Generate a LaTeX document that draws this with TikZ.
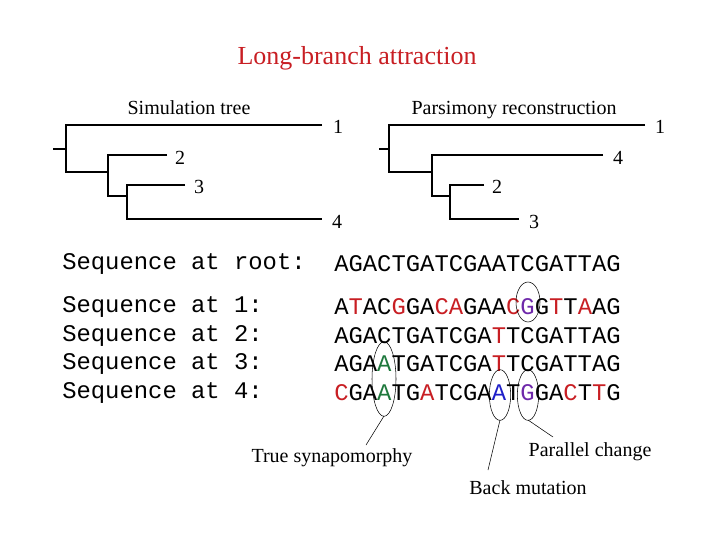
\documentclass[tikz,border=0pt]{standalone}
\usepackage{fontspec}
\setmainfont{Liberation Serif}
\newfontfamily\seqfont{Liberation Mono}
\definecolor{rd}{RGB}{200,30,35}
\definecolor{gn}{RGB}{30,120,60}
\definecolor{bl}{RGB}{30,30,200}
\definecolor{pu}{RGB}{110,40,170}
\newcommand{\cR}[1]{\textcolor{rd}{#1}}
\newcommand{\cG}[1]{\textcolor{gn}{#1}}
\newcommand{\cB}[1]{\textcolor{bl}{#1}}
\newcommand{\cP}[1]{\textcolor{pu}{#1}}
\begin{document}
\begin{tikzpicture}[x=0.75pt,y=-0.75pt,
  br/.style={line width=2.2pt},
  lab/.style={font=\fontsize{15}{15}\selectfont,inner sep=0pt},
  seq/.style={font=\seqfont\fontsize{17.9}{18}\selectfont,anchor=west,inner sep=0pt}]
\useasboundingbox (0,0) rectangle (720,540);
\node[lab,text=rd,font=\fontsize{19.5}{20}\selectfont] (title) at (357,58) {Long-branch attraction};
\node[lab] (st) at (189,108) {Simulation tree};
\node[lab] (pr) at (514,110) {Parsimony reconstruction};
% left tree
\draw[br] (53,149) -- (66,149);
\draw[br] (322,125) -- (66,125) -- (66,172) -- (108,172);
\draw[br] (167,155) -- (108,155) -- (108,196) -- (127,196);
\draw[br] (185,185) -- (127,185) -- (127,219) -- (322,219);
\node[lab] (l1) at (338,127) {1};
\node[lab] (l2) at (180,158) {2};
\node[lab] (l3) at (199,187) {3};
\node[lab] (l4) at (337,222) {4};
% right tree
\draw[br] (379,149) -- (389,149);
\draw[br] (645,125) -- (389,125) -- (389,172) -- (432,172);
\draw[br] (603,155) -- (432,155) -- (432,196) -- (450,196);
\draw[br] (484,185) -- (450,185) -- (450,219) -- (519,219);
\node[lab] (r1) at (660,127) {1};
\node[lab] (r4) at (618,158) {4};
\node[lab] (r2) at (497,187) {2};
\node[lab] (r3) at (534,222) {3};
% sequences
\node[seq] (s0) at (62,264) {Sequence at root:};
\node[seq] (s1) at (62,307) {Sequence at 1:};
\node[seq] (s2) at (62,336) {Sequence at 2:};
\node[seq] (s3) at (62,364) {Sequence at 3:};
\node[seq] (s4) at (62,393) {Sequence at 4:};
\node[seq] (q0) at (334,264) {AGACTGATCGAATCGATTAG};
\node[seq] (q1) at (334,307) {A\cR{T}AC\cR{G}GA\cR{CA}GAA\cR{C}\cP{G}G\cR{T}T\cR{A}AG};
\node[seq] (q2) at (334,336) {AGACTGATCGA\cR{T}TCGATTAG};
\node[seq] (q3) at (334,364) {AGA\cG{A}TGATCGA\cR{T}TCGATTAG};
\node[seq] (q4) at (334,393) {\cR{C}GA\cG{A}TG\cR{A}TCGA\cB{A}T\cP{G}GA\cR{C}T\cR{T}G};
% ellipses
\draw (384,379) ellipse (9pt and 28pt);
\draw (528,302) ellipse (9pt and 15pt);
\draw (500,395) ellipse (8pt and 19pt);
\draw (528,395) ellipse (8pt and 19pt);
\coordinate (e1) at (384,416);
\coordinate (e2) at (500,420);
\coordinate (e3) at (528,420);
\node[lab] (ts) at (332,458) {True synapomorphy};
\node[lab] (bm) at (528,488) {Back mutation};
\node[lab] (pc) at (590,452) {Parallel change};
\draw (e1) -- (366,445);
\draw (e2) -- (488,470);
\draw (e3) -- (553,437);
\end{tikzpicture}
\end{document}
